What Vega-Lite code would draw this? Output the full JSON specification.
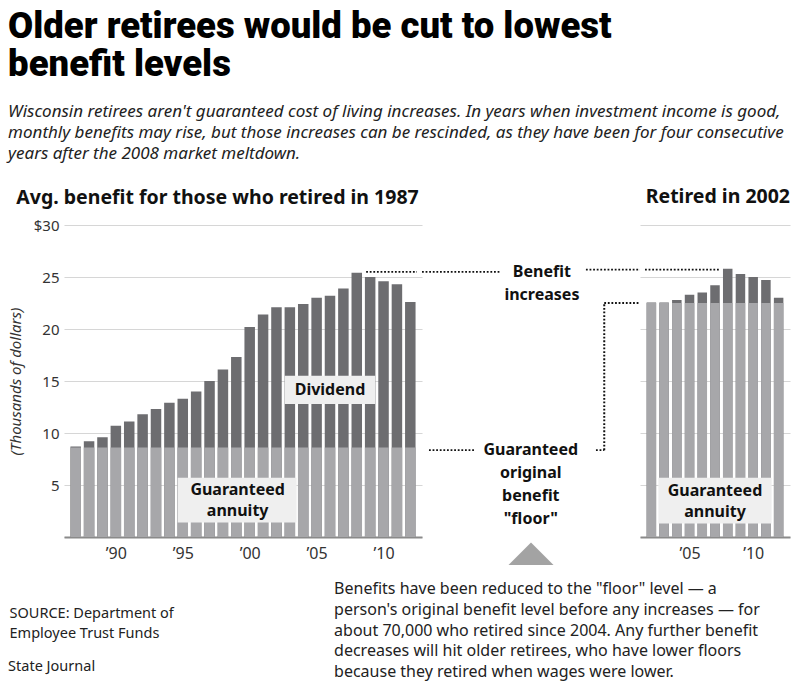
{
  "$schema": "https://vega.github.io/schema/vega-lite/v6.json",
  "background": "white",
  "padding": {"left": 8, "top": 9, "right": 8, "bottom": 6},
  "autosize": {"type": "pad"},
  "bounds": "flush",
  "spacing": 352,
  "title": {
    "text": ["Older retirees would be cut to lowest", "benefit levels"],
    "subtitle": [
      "Wisconsin retirees aren't guaranteed cost of living increases. In years when investment income is good,",
      "monthly benefits may rise, but those increases can be rescinded, as they have been for four consecutive",
      "years after the 2008 market meltdown."
    ],
    "anchor": "start",
    "frame": "bounds",
    "font": "Roboto",
    "fontSize": 36.5,
    "fontWeight": 900,
    "lineHeight": 38,
    "color": "#000000",
    "subtitleFont": "Noto Sans",
    "subtitleFontStyle": "italic",
    "subtitleFontSize": 17,
    "subtitleLineHeight": 21,
    "subtitleColor": "#222222",
    "subtitlePadding": 20,
    "offset": 25
  },
  "datasets": {
    "retired1987": [
      {"year": 1987, "total": 8.7, "floor": 8.6},
      {"year": 1988, "total": 9.2, "floor": 8.6},
      {"year": 1989, "total": 9.6, "floor": 8.6},
      {"year": 1990, "total": 10.7, "floor": 8.6},
      {"year": 1991, "total": 11.1, "floor": 8.6},
      {"year": 1992, "total": 11.8, "floor": 8.6},
      {"year": 1993, "total": 12.3, "floor": 8.6},
      {"year": 1994, "total": 12.9, "floor": 8.6},
      {"year": 1995, "total": 13.3, "floor": 8.6},
      {"year": 1996, "total": 14.0, "floor": 8.6},
      {"year": 1997, "total": 15.0, "floor": 8.6},
      {"year": 1998, "total": 16.1, "floor": 8.6},
      {"year": 1999, "total": 17.3, "floor": 8.6},
      {"year": 2000, "total": 20.2, "floor": 8.6},
      {"year": 2001, "total": 21.4, "floor": 8.6},
      {"year": 2002, "total": 22.1, "floor": 8.6},
      {"year": 2003, "total": 22.1, "floor": 8.6},
      {"year": 2004, "total": 22.4, "floor": 8.6},
      {"year": 2005, "total": 23.0, "floor": 8.6},
      {"year": 2006, "total": 23.2, "floor": 8.6},
      {"year": 2007, "total": 23.9, "floor": 8.6},
      {"year": 2008, "total": 25.4, "floor": 8.6},
      {"year": 2009, "total": 25.0, "floor": 8.6},
      {"year": 2010, "total": 24.6, "floor": 8.6},
      {"year": 2011, "total": 24.3, "floor": 8.6},
      {"year": 2012, "total": 22.6, "floor": 8.6}
    ],
    "retired2002": [
      {"year": 2002, "total": 22.55, "floor": 22.5},
      {"year": 2003, "total": 22.55, "floor": 22.5},
      {"year": 2004, "total": 22.8, "floor": 22.5},
      {"year": 2005, "total": 23.3, "floor": 22.5},
      {"year": 2006, "total": 23.5, "floor": 22.5},
      {"year": 2007, "total": 24.2, "floor": 22.5},
      {"year": 2008, "total": 25.8, "floor": 22.5},
      {"year": 2009, "total": 25.3, "floor": 22.5},
      {"year": 2010, "total": 25.0, "floor": 22.5},
      {"year": 2011, "total": 24.7, "floor": 22.5},
      {"year": 2012, "total": 23.0, "floor": 22.5}
    ]
  },
  "config": {
    "view": {"stroke": null},
    "font": "Noto Sans",
    "axis": {
      "labelFont": "Noto Sans",
      "labelColor": "#333333",
      "ticks": false
    }
  },
  "vconcat": [
    {
      "bounds": "flush",
      "spacing": 0,
      "hconcat": [
        {
          "width": 358,
          "height": 312,
          "title": {
            "text": "Avg. benefit for those who retired in 1987",
            "anchor": "start",
            "frame": "bounds",
            "font": "Noto Sans",
            "fontSize": 19.5,
            "fontWeight": "bold",
            "color": "#111111",
            "offset": 10,
            "dx": 8
          },
          "layer": [
            {
              "data": {"name": "retired1987"},
              "mark": {"type": "bar", "width": 10.5, "color": "#6d6d70"},
              "encoding": {
                "x": {
                  "field": "year",
                  "type": "quantitative",
                  "scale": {"domain": [1986.5, 2012.5], "nice": false, "zero": false},
                  "axis": {
                    "values": [1990, 1995, 2000, 2005, 2010],
                    "format": "d",
                    "labelExpr": "'’' + slice(datum.label, 2)",
                    "title": null,
                    "grid": false,
                    "domainColor": "#8a8a8a",
                    "domainWidth": 2,
                    "labelFontSize": 16,
                    "labelPadding": 8
                  }
                },
                "y": {
                  "field": "total",
                  "type": "quantitative",
                  "scale": {"domain": [0, 30], "nice": false},
                  "axis": {
                    "values": [0, 5, 10, 15, 20, 25, 30],
                    "labelExpr": "datum.value == 30 ? '$30' : datum.value == 0 ? '' : datum.label",
                    "title": "(Thousands of dollars)",
                    "titleFont": "Noto Sans",
                    "titleFontStyle": "italic",
                    "titleFontWeight": "normal",
                    "titleFontSize": 15,
                    "titleColor": "#333333",
                    "titlePadding": 10,
                    "domain": false,
                    "grid": true,
                    "gridColor": "#d6d6d6",
                    "gridWidth": 1.2,
                    "labelFontSize": 15,
                    "labelPadding": 5
                  }
                }
              }
            },
            {
              "data": {"name": "retired1987"},
              "mark": {"type": "bar", "width": 10.5, "color": "#a7a7aa"},
              "encoding": {
                "x": {"field": "year", "type": "quantitative"},
                "y": {"field": "floor", "type": "quantitative"}
              }
            },
            {
              "data": {"values": [{}]},
              "mark": {"type": "rect", "color": "#efefef"},
              "encoding": {
                "x": {"datum": 2002.62},
                "x2": {"datum": 2009.38},
                "y": {"datum": 12.8},
                "y2": {"datum": 15.5}
              }
            },
            {
              "data": {"values": [{}]},
              "mark": {"type": "rect", "color": "#efefef"},
              "encoding": {
                "x": {"datum": 1994.62},
                "x2": {"datum": 2003.5},
                "y": {"datum": 1.4},
                "y2": {"datum": 5.7}
              }
            },
            {
              "data": {"values": [{}]},
              "mark": {"type": "text", "font": "Noto Sans", "fontWeight": "bold", "fontSize": 16, "color": "#111111", "baseline": "middle"},
              "encoding": {
                "x": {"datum": 2006},
                "y": {"datum": 14.1},
                "text": {"value": "Dividend"}
              }
            },
            {
              "data": {"values": [{}]},
              "mark": {"type": "text", "font": "Noto Sans", "fontWeight": "bold", "fontSize": 16, "lineHeight": 21, "color": "#111111", "baseline": "middle"},
              "encoding": {
                "x": {"datum": 1999.1},
                "y": {"datum": 4.55},
                "text": {"value": ["Guaranteed", "annuity"]}
              }
            },
            {
              "data": {"values": [{}]},
              "mark": {"type": "rule", "color": "#111111", "strokeWidth": 1.8, "strokeDash": [1.8, 1.8]},
              "encoding": {
                "x": {"datum": 2008.7},
                "x2": {"datum": 2012.5},
                "y": {"datum": 25.5}
              }
            }
          ]
        },
        {
          "width": 218,
          "height": 312,
          "data": {"values": [{}]},
          "layer": [
            {
              "mark": {"type": "rule", "color": "#111111", "strokeWidth": 1.8, "strokeDash": [1.8, 1.8]},
              "encoding": {
                "x": {"datum": 0, "scale": {"domain": [0, 1]}, "axis": null},
                "x2": {"datum": 0.362},
                "y": {"datum": 25.5, "scale": {"domain": [0, 30], "nice": false}, "axis": null}
              }
            },
            {
              "mark": {"type": "rule", "color": "#111111", "strokeWidth": 1.8, "strokeDash": [1.8, 1.8]},
              "encoding": {
                "x": {"datum": 0.752},
                "x2": {"datum": 1},
                "y": {"datum": 25.7}
              }
            },
            {
              "mark": {"type": "rule", "color": "#111111", "strokeWidth": 1.8, "strokeDash": [1.8, 1.8]},
              "encoding": {
                "x": {"datum": 0.032},
                "x2": {"datum": 0.243},
                "y": {"datum": 8.35}
              }
            },
            {
              "mark": {"type": "rule", "color": "#111111", "strokeWidth": 1.8, "strokeDash": [1.8, 1.8]},
              "encoding": {
                "x": {"datum": 0.798},
                "x2": {"datum": 0.836},
                "y": {"datum": 8.35}
              }
            },
            {
              "mark": {"type": "rule", "color": "#111111", "strokeWidth": 2, "strokeDash": [1.8, 1.8]},
              "encoding": {
                "x": {"datum": 0.836},
                "y": {"datum": 8.35},
                "y2": {"datum": 22.5}
              }
            },
            {
              "mark": {"type": "rule", "color": "#111111", "strokeWidth": 1.8, "strokeDash": [1.8, 1.8]},
              "encoding": {
                "x": {"datum": 0.836},
                "x2": {"datum": 1},
                "y": {"datum": 22.5}
              }
            },
            {
              "mark": {"type": "text", "font": "Noto Sans", "fontWeight": "bold", "fontSize": 16, "lineHeight": 23, "color": "#111111", "baseline": "middle"},
              "encoding": {
                "x": {"datum": 0.55},
                "y": {"datum": 25.5},
                "text": {"value": ["Benefit", "increases"]}
              }
            },
            {
              "mark": {"type": "text", "font": "Noto Sans", "fontWeight": "bold", "fontSize": 16, "lineHeight": 22.8, "color": "#111111", "baseline": "middle"},
              "encoding": {
                "x": {"datum": 0.499},
                "y": {"datum": 8.35},
                "text": {"value": ["Guaranteed", "original", "benefit", "\"floor\""]}
              }
            },
            {
              "mark": {"type": "point", "shape": "M-1,0.5L0,-0.5L1,0.5Z", "size": 2025, "filled": true, "color": "#a3a3a3", "opacity": 1},
              "encoding": {
                "x": {"datum": 0.5},
                "y": {"datum": -1.6}
              }
            }
          ]
        },
        {
          "width": 150,
          "height": 312,
          "title": {
            "text": "Retired in 2002",
            "anchor": "end",
            "frame": "group",
            "font": "Noto Sans",
            "fontSize": 19.5,
            "fontWeight": "bold",
            "color": "#111111",
            "offset": 18
          },
          "layer": [
            {
              "data": {"name": "retired2002"},
              "mark": {"type": "bar", "width": 9.5, "color": "#6d6d70"},
              "encoding": {
                "x": {
                  "field": "year",
                  "type": "quantitative",
                  "scale": {"domain": [2001.5, 2012.5], "nice": false, "zero": false},
                  "axis": {
                    "values": [2005, 2010],
                    "format": "d",
                    "labelExpr": "'’' + slice(datum.label, 2)",
                    "title": null,
                    "grid": false,
                    "domainColor": "#8a8a8a",
                    "domainWidth": 2,
                    "labelFontSize": 16,
                    "labelPadding": 8
                  }
                },
                "y": {
                  "field": "total",
                  "type": "quantitative",
                  "scale": {"domain": [0, 30], "nice": false},
                  "axis": {
                    "values": [0, 5, 10, 15, 20, 25, 30],
                    "labels": false,
                    "title": null,
                    "domain": false,
                    "grid": true,
                    "gridColor": "#d6d6d6",
                    "gridWidth": 1.2
                  }
                }
              }
            },
            {
              "data": {"name": "retired2002"},
              "mark": {"type": "bar", "width": 9.5, "color": "#a7a7aa"},
              "encoding": {
                "x": {"field": "year", "type": "quantitative"},
                "y": {"field": "floor", "type": "quantitative"}
              }
            },
            {
              "data": {"values": [{}]},
              "mark": {"type": "rect", "color": "#efefef"},
              "encoding": {
                "x": {"datum": 2002.55},
                "x2": {"datum": 2011.45},
                "y": {"datum": 1.3},
                "y2": {"datum": 5.7}
              }
            },
            {
              "data": {"values": [{}]},
              "mark": {"type": "text", "font": "Noto Sans", "fontWeight": "bold", "fontSize": 16, "lineHeight": 21, "color": "#111111", "baseline": "middle"},
              "encoding": {
                "x": {"datum": 2007},
                "y": {"datum": 4.45},
                "text": {"value": ["Guaranteed", "annuity"]}
              }
            },
            {
              "data": {"values": [{}]},
              "mark": {"type": "rule", "color": "#111111", "strokeWidth": 1.8, "strokeDash": [1.8, 1.8]},
              "encoding": {
                "x": {"datum": 2001.5},
                "x2": {"datum": 2007.3},
                "y": {"datum": 25.7}
              }
            }
          ]
        }
      ]
    },
    {
      "width": 726,
      "height": 100,
      "data": {"values": [{}]},
      "layer": [
        {
          "mark": {"type": "text", "font": "Noto Sans", "fontSize": 16, "lineHeight": 20.8, "color": "#222222", "align": "left", "baseline": "middle"},
          "encoding": {
            "x": {"datum": 0.372, "scale": {"domain": [0, 1]}, "axis": null},
            "y": {"datum": 0.88, "scale": {"domain": [0, 1]}, "axis": null},
            "text": {"value": [
              "Benefits have been reduced to the \"floor\" level — a",
              "person's original benefit level before any increases — for",
              "about 70,000 who retired since 2004. Any further benefit",
              "decreases will hit older retirees, who have lower floors",
              "because they retired when wages were lower."
            ]}
          }
        },
        {
          "mark": {"type": "text", "font": "Noto Sans", "fontSize": 14.5, "lineHeight": 20, "color": "#222222", "align": "left", "baseline": "middle"},
          "encoding": {
            "x": {"datum": -0.075},
            "y": {"datum": 0.63},
            "text": {"value": ["SOURCE: Department of", "Employee Trust Funds"]}
          }
        },
        {
          "mark": {"type": "text", "font": "Noto Sans", "fontSize": 14.5, "color": "#222222", "align": "left", "baseline": "middle"},
          "encoding": {
            "x": {"datum": -0.077},
            "y": {"datum": 0.1},
            "text": {"value": "State Journal"}
          }
        }
      ]
    }
  ]
}
